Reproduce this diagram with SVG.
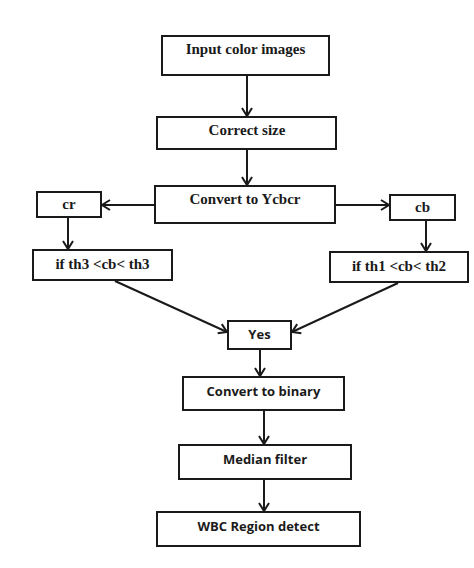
<svg xmlns="http://www.w3.org/2000/svg" width="474" height="568" viewBox="0 0 474 568">
<defs>
<marker id="ah" markerWidth="12" markerHeight="12" refX="9" refY="6" orient="auto" markerUnits="userSpaceOnUse">
<path d="M1,1 L9,6 L1,11" fill="none" stroke="#1a1a1a" stroke-width="2"/>
</marker>
</defs>
<style>
rect{fill:#fff;stroke:#1a1a1a;stroke-width:2}
.c line{stroke:#1a1a1a;stroke-width:2;marker-end:url(#ah)}
.s{font-weight:bold;font-size:15px;fill:#1a1a1a;text-anchor:middle}
.a{font-weight:bold;font-size:13px;fill:#1a1a1a;text-anchor:middle}
</style>
<rect x="0" y="0" width="474" height="568" style="stroke:none"/>
<g class="c">
<line x1="247" y1="75" x2="247" y2="116"/>
<line x1="247" y1="149" x2="247" y2="185"/>
<line x1="155" y1="205" x2="102" y2="205"/>
<line x1="335" y1="205" x2="389" y2="205"/>
<line x1="68" y1="217" x2="68" y2="249"/>
<line x1="426" y1="220" x2="426" y2="251"/>
<line x1="115" y1="281" x2="227" y2="332"/>
<line x1="398" y1="283" x2="292" y2="332"/>
<line x1="260" y1="349" x2="260" y2="376"/>
<line x1="264" y1="410" x2="264" y2="444"/>
<line x1="264" y1="479" x2="264" y2="511"/>
</g>
<g font-family="'Liberation Serif', 'DejaVu Serif', serif">
<g id="input"><rect x="162" y="36" width="167" height="39"/><text class="s" x="245.5" y="54">Input color images</text></g>
<g id="correct"><rect x="157" y="117" width="179" height="32"/><text class="s" x="247" y="135">Correct size</text></g>
<g id="convert"><rect x="155" y="186" width="180" height="37"/><text class="s" x="245" y="204">Convert to Ycbcr</text></g>
<g id="cr"><rect x="37" y="192" width="64" height="25"/><text class="s" x="69" y="209">cr</text></g>
<g id="cb"><rect x="390" y="195" width="65" height="25"/><text class="s" x="422.5" y="212">cb</text></g>
<g id="th3"><rect x="33" y="250" width="139" height="30"/><text class="s" x="102.5" y="269">if th3 &lt;cb&lt; th3</text></g>
<g id="th1"><rect x="330" y="252" width="138" height="30"/><text class="s" x="399" y="271">if th1 &lt;cb&lt; th2</text></g>
</g>
<g font-family="'Open Sans', 'DejaVu Sans', sans-serif">
<g id="yes"><rect x="228" y="321" width="63" height="28"/><text class="a" x="259.5" y="339">Yes</text></g>
<g id="binary"><rect x="183" y="377" width="161" height="33"/><text class="a" x="263.5" y="396">Convert to binary</text></g>
<g id="median"><rect x="179" y="445" width="172" height="34"/><text class="a" x="265" y="464">Median filter</text></g>
<g id="wbc"><rect x="157" y="512" width="203" height="34"/><text class="a" x="258.5" y="531">WBC Region detect</text></g>
</g>
</svg>
